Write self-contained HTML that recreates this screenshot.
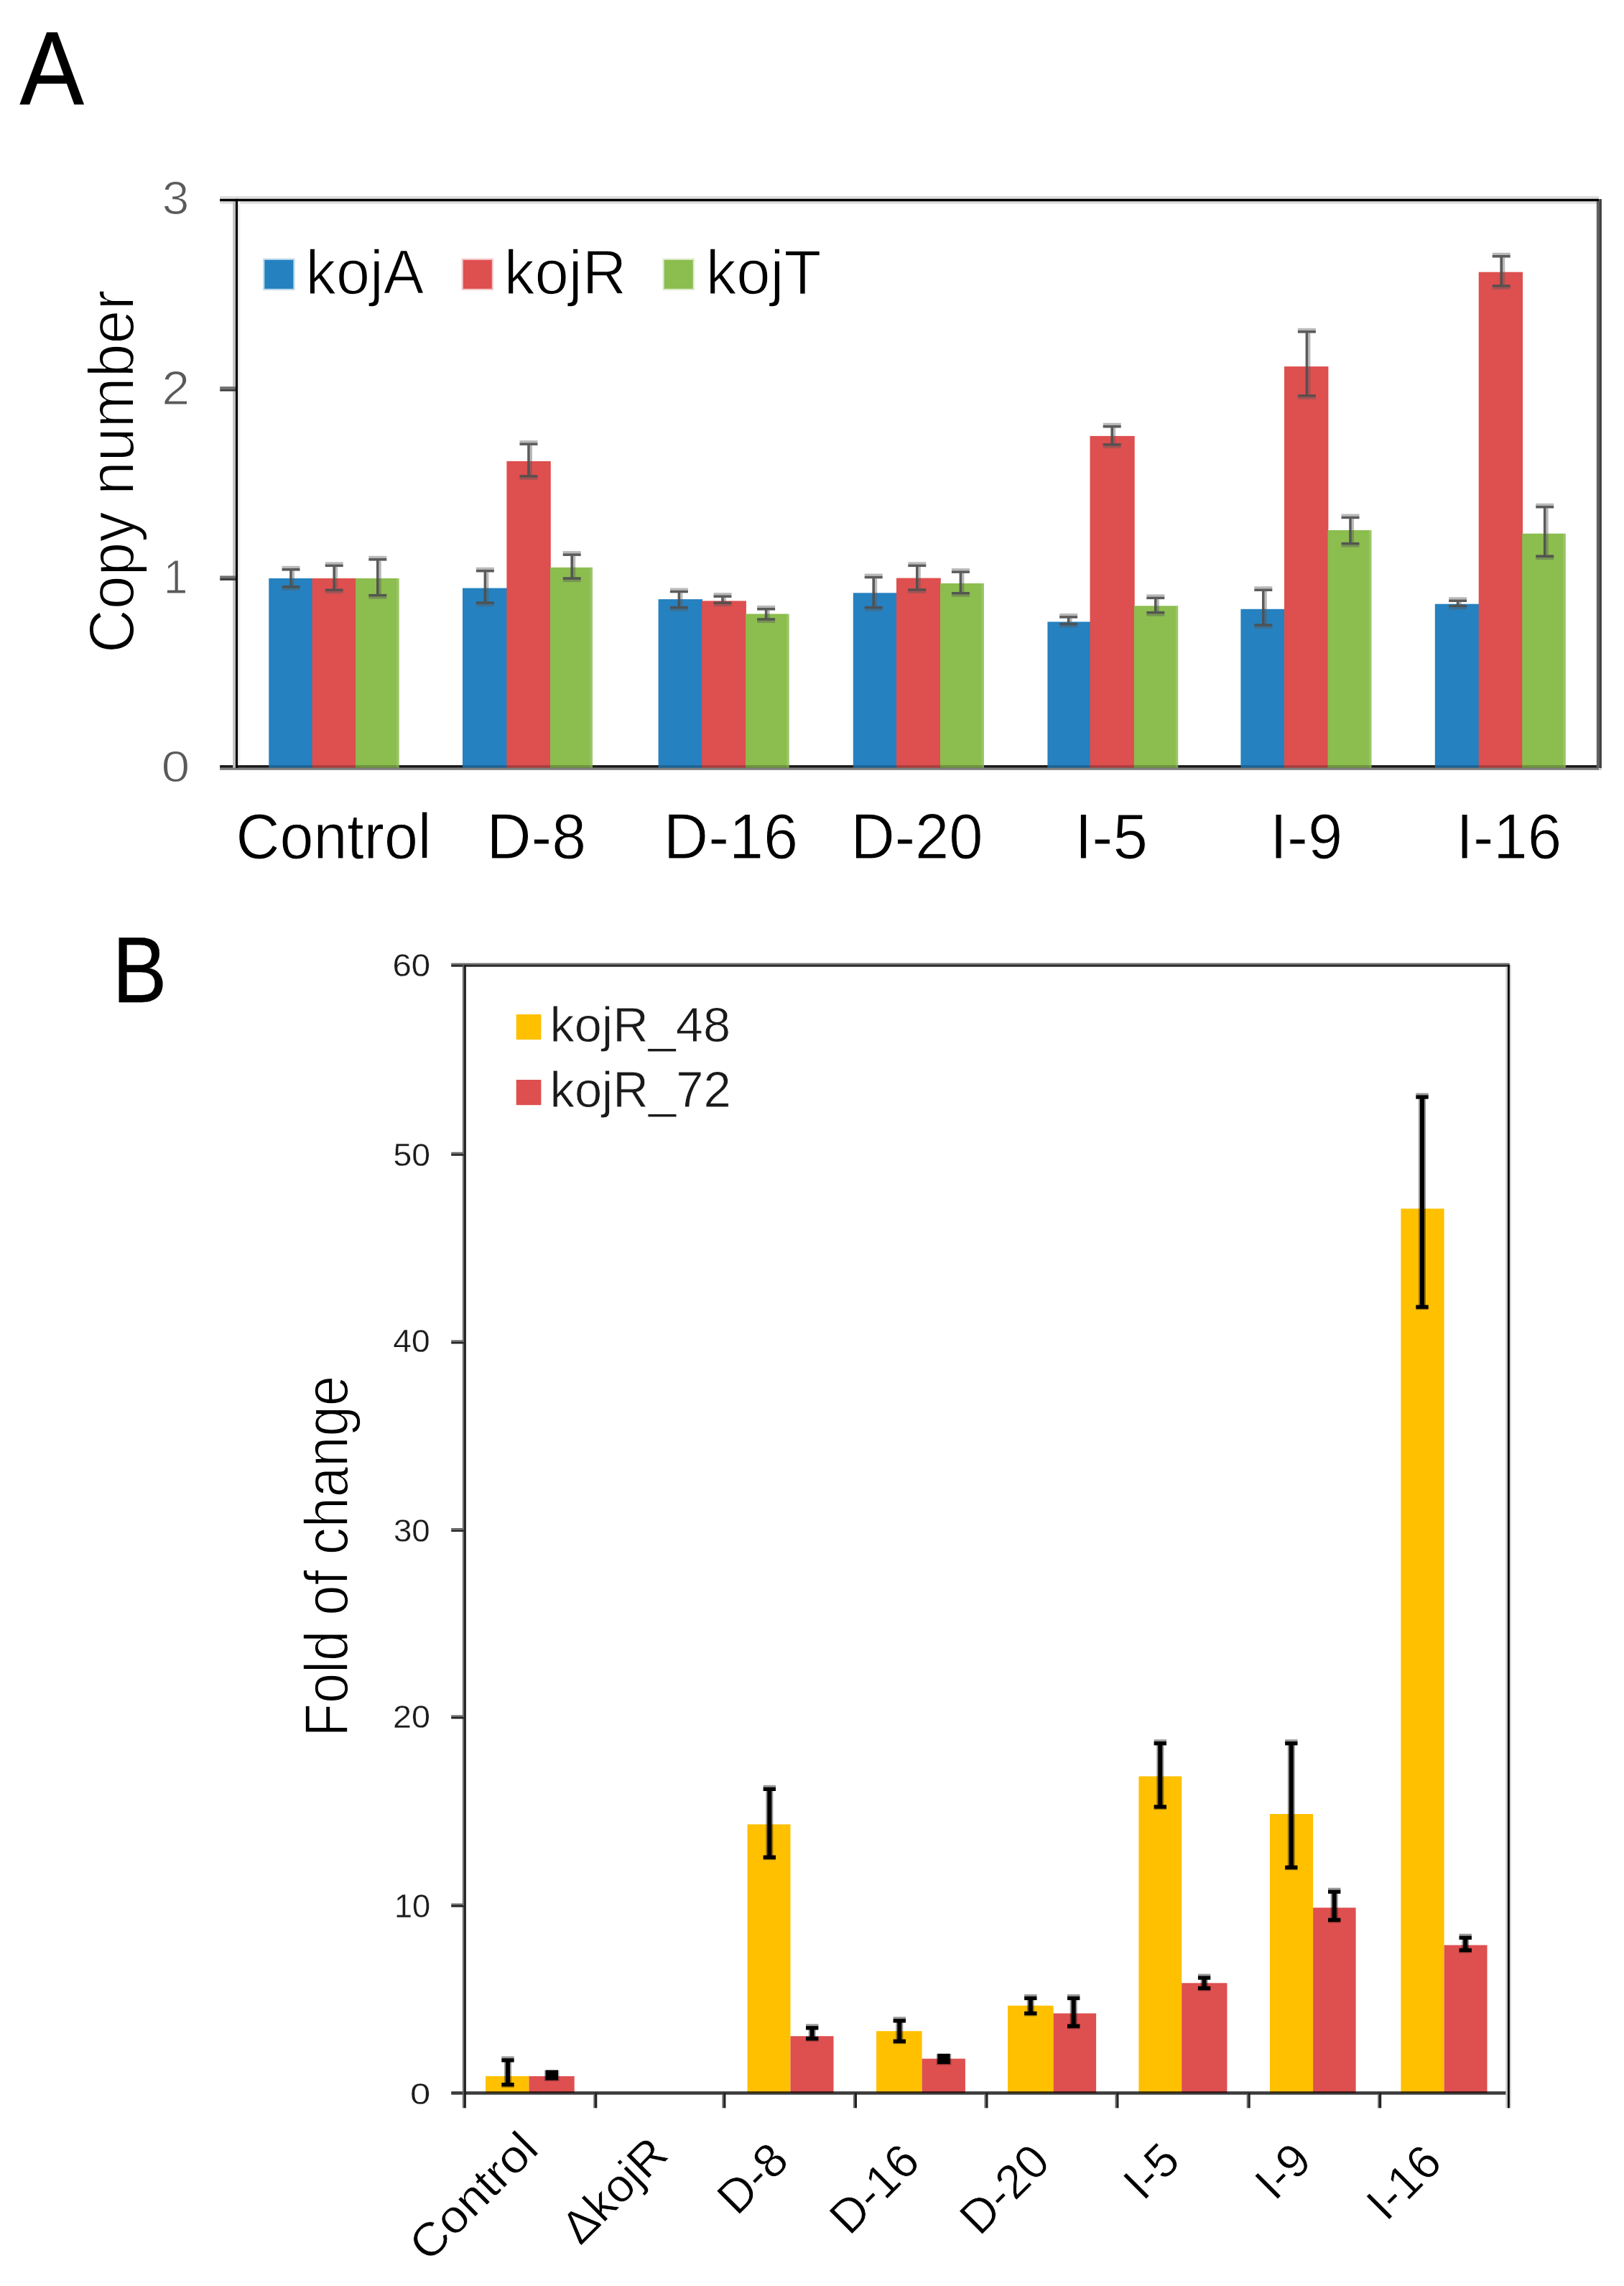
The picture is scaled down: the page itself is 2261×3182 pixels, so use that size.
<!DOCTYPE html>
<html lang="en"><head><meta charset="utf-8"><title>Figure</title>
<style>
html,body{margin:0;padding:0;background:#fff;}
svg{display:block;font-family:"Liberation Sans", sans-serif;}
</style></head>
<body>
<svg width="2261" height="3182" viewBox="0 0 2261 3182" shape-rendering="geometricPrecision">
<rect x="0" y="0" width="2261" height="3182" fill="#ffffff"/>
<text transform="translate(27.87,144.50) scale(0.9262,1)" font-size="143.90" fill="#000" stroke="#000" stroke-width="1" stroke-linejoin="miter">A</text>
<text transform="translate(156.61,1395.10) scale(0.8719,1)" font-size="130.52" fill="#000" stroke="#000" stroke-width="0.4">B</text>
<g id="chartA">
<rect x="306.10" y="1065.10" width="1920.10" height="3.70" fill="#222"/>
<rect x="374.30" y="805.00" width="61.10" height="263.80" fill="#2581c0"/>
<rect x="434.60" y="805.00" width="61.30" height="263.80" fill="#de4f4f"/>
<rect x="495.10" y="805.00" width="60.60" height="263.80" fill="#8cbd4f"/>
<rect x="552.30" y="805.00" width="3.40" height="263.80" fill="#ffffff" opacity="0.14"/>
<rect x="644.00" y="818.60" width="62.20" height="250.20" fill="#2581c0"/>
<rect x="705.40" y="642.00" width="61.40" height="426.80" fill="#de4f4f"/>
<rect x="766.00" y="789.80" width="59.00" height="279.00" fill="#8cbd4f"/>
<rect x="821.60" y="789.80" width="3.40" height="279.00" fill="#ffffff" opacity="0.14"/>
<rect x="916.60" y="834.10" width="61.40" height="234.70" fill="#2581c0"/>
<rect x="977.20" y="836.40" width="61.70" height="232.40" fill="#de4f4f"/>
<rect x="1038.10" y="854.50" width="60.60" height="214.30" fill="#8cbd4f"/>
<rect x="1095.30" y="854.50" width="3.40" height="214.30" fill="#ffffff" opacity="0.14"/>
<rect x="1187.80" y="825.30" width="61.00" height="243.50" fill="#2581c0"/>
<rect x="1248.00" y="804.60" width="61.80" height="264.20" fill="#de4f4f"/>
<rect x="1309.00" y="812.00" width="61.00" height="256.80" fill="#8cbd4f"/>
<rect x="1366.60" y="812.00" width="3.40" height="256.80" fill="#ffffff" opacity="0.14"/>
<rect x="1458.40" y="865.50" width="59.90" height="203.30" fill="#2581c0"/>
<rect x="1517.50" y="606.90" width="62.20" height="461.90" fill="#de4f4f"/>
<rect x="1578.90" y="843.30" width="61.30" height="225.50" fill="#8cbd4f"/>
<rect x="1636.80" y="843.30" width="3.40" height="225.50" fill="#ffffff" opacity="0.14"/>
<rect x="1727.40" y="847.80" width="61.40" height="221.00" fill="#2581c0"/>
<rect x="1788.00" y="510.10" width="61.40" height="558.70" fill="#de4f4f"/>
<rect x="1848.60" y="738.00" width="60.90" height="330.80" fill="#8cbd4f"/>
<rect x="1906.10" y="738.00" width="3.40" height="330.80" fill="#ffffff" opacity="0.14"/>
<rect x="1997.80" y="840.70" width="61.70" height="228.10" fill="#2581c0"/>
<rect x="2058.70" y="378.70" width="61.30" height="690.10" fill="#de4f4f"/>
<rect x="2119.20" y="742.70" width="60.60" height="326.10" fill="#8cbd4f"/>
<rect x="2176.40" y="742.70" width="3.40" height="326.10" fill="#ffffff" opacity="0.14"/>
<g fill="#4f4f4f" opacity="0.93">
<rect x="403.20" y="792.80" width="3.60" height="24.10" fill="#4f4f4f"/>
<rect x="392.50" y="791.00" width="25.00" height="3.60" fill="#4f4f4f"/>
<rect x="392.50" y="815.10" width="25.00" height="3.60" fill="#4f4f4f"/>
</g><g opacity="0.42">
<rect x="406.80" y="794.60" width="3.20" height="20.50" fill="#5a5a5a"/>
<rect x="392.50" y="787.80" width="25.00" height="3.20" fill="#5a5a5a"/>
<rect x="392.50" y="818.70" width="25.00" height="3.20" fill="#5a5a5a"/>
</g>
<g fill="#4f4f4f" opacity="0.93">
<rect x="463.40" y="787.30" width="3.60" height="34.00" fill="#4f4f4f"/>
<rect x="452.70" y="785.50" width="25.00" height="3.60" fill="#4f4f4f"/>
<rect x="452.70" y="819.50" width="25.00" height="3.60" fill="#4f4f4f"/>
</g><g opacity="0.42">
<rect x="467.00" y="789.10" width="3.20" height="30.40" fill="#5a5a5a"/>
<rect x="452.70" y="782.30" width="25.00" height="3.20" fill="#5a5a5a"/>
<rect x="452.70" y="823.10" width="25.00" height="3.20" fill="#5a5a5a"/>
</g>
<g fill="#4f4f4f" opacity="0.93">
<rect x="524.00" y="778.80" width="3.60" height="49.90" fill="#4f4f4f"/>
<rect x="513.30" y="777.00" width="25.00" height="3.60" fill="#4f4f4f"/>
<rect x="513.30" y="826.90" width="25.00" height="3.60" fill="#4f4f4f"/>
</g><g opacity="0.42">
<rect x="527.60" y="780.60" width="3.20" height="46.30" fill="#5a5a5a"/>
<rect x="513.30" y="773.80" width="25.00" height="3.20" fill="#5a5a5a"/>
<rect x="513.30" y="830.50" width="25.00" height="3.20" fill="#5a5a5a"/>
</g>
<g fill="#4f4f4f" opacity="0.93">
<rect x="673.60" y="794.70" width="3.60" height="44.40" fill="#4f4f4f"/>
<rect x="662.90" y="792.90" width="25.00" height="3.60" fill="#4f4f4f"/>
<rect x="662.90" y="837.30" width="25.00" height="3.60" fill="#4f4f4f"/>
</g><g opacity="0.42">
<rect x="677.20" y="796.50" width="3.20" height="40.80" fill="#5a5a5a"/>
<rect x="662.90" y="789.70" width="25.00" height="3.20" fill="#5a5a5a"/>
<rect x="662.90" y="840.90" width="25.00" height="3.20" fill="#5a5a5a"/>
</g>
<g fill="#4f4f4f" opacity="0.93">
<rect x="734.20" y="618.10" width="3.60" height="44.80" fill="#4f4f4f"/>
<rect x="723.50" y="616.30" width="25.00" height="3.60" fill="#4f4f4f"/>
<rect x="723.50" y="661.10" width="25.00" height="3.60" fill="#4f4f4f"/>
</g><g opacity="0.42">
<rect x="737.80" y="619.90" width="3.20" height="41.20" fill="#5a5a5a"/>
<rect x="723.50" y="613.10" width="25.00" height="3.20" fill="#5a5a5a"/>
<rect x="723.50" y="664.70" width="25.00" height="3.20" fill="#5a5a5a"/>
</g>
<g fill="#4f4f4f" opacity="0.93">
<rect x="794.40" y="772.10" width="3.60" height="33.00" fill="#4f4f4f"/>
<rect x="783.70" y="770.30" width="25.00" height="3.60" fill="#4f4f4f"/>
<rect x="783.70" y="803.30" width="25.00" height="3.60" fill="#4f4f4f"/>
</g><g opacity="0.42">
<rect x="798.00" y="773.90" width="3.20" height="29.40" fill="#5a5a5a"/>
<rect x="783.70" y="767.10" width="25.00" height="3.20" fill="#5a5a5a"/>
<rect x="783.70" y="806.90" width="25.00" height="3.20" fill="#5a5a5a"/>
</g>
<g fill="#4f4f4f" opacity="0.93">
<rect x="943.60" y="823.50" width="3.60" height="22.20" fill="#4f4f4f"/>
<rect x="932.90" y="821.70" width="25.00" height="3.60" fill="#4f4f4f"/>
<rect x="932.90" y="843.90" width="25.00" height="3.60" fill="#4f4f4f"/>
</g><g opacity="0.42">
<rect x="947.20" y="825.30" width="3.20" height="18.60" fill="#5a5a5a"/>
<rect x="932.90" y="818.50" width="25.00" height="3.20" fill="#5a5a5a"/>
<rect x="932.90" y="847.50" width="25.00" height="3.20" fill="#5a5a5a"/>
</g>
<g fill="#4f4f4f" opacity="0.93">
<rect x="1004.20" y="830.10" width="3.60" height="9.00" fill="#4f4f4f"/>
<rect x="993.50" y="828.30" width="25.00" height="3.60" fill="#4f4f4f"/>
<rect x="993.50" y="837.30" width="25.00" height="3.60" fill="#4f4f4f"/>
</g><g opacity="0.42">
<rect x="1007.80" y="831.90" width="3.20" height="5.40" fill="#5a5a5a"/>
<rect x="993.50" y="825.10" width="25.00" height="3.20" fill="#5a5a5a"/>
<rect x="993.50" y="840.90" width="25.00" height="3.20" fill="#5a5a5a"/>
</g>
<g fill="#4f4f4f" opacity="0.93">
<rect x="1064.80" y="847.80" width="3.60" height="14.20" fill="#4f4f4f"/>
<rect x="1054.10" y="846.00" width="25.00" height="3.60" fill="#4f4f4f"/>
<rect x="1054.10" y="860.20" width="25.00" height="3.60" fill="#4f4f4f"/>
</g><g opacity="0.42">
<rect x="1068.40" y="849.60" width="3.20" height="10.60" fill="#5a5a5a"/>
<rect x="1054.10" y="842.80" width="25.00" height="3.20" fill="#5a5a5a"/>
<rect x="1054.10" y="863.80" width="25.00" height="3.20" fill="#5a5a5a"/>
</g>
<g fill="#4f4f4f" opacity="0.93">
<rect x="1214.40" y="803.50" width="3.60" height="42.20" fill="#4f4f4f"/>
<rect x="1203.70" y="801.70" width="25.00" height="3.60" fill="#4f4f4f"/>
<rect x="1203.70" y="843.90" width="25.00" height="3.60" fill="#4f4f4f"/>
</g><g opacity="0.42">
<rect x="1218.00" y="805.30" width="3.20" height="38.60" fill="#5a5a5a"/>
<rect x="1203.70" y="798.50" width="25.00" height="3.20" fill="#5a5a5a"/>
<rect x="1203.70" y="847.50" width="25.00" height="3.20" fill="#5a5a5a"/>
</g>
<g fill="#4f4f4f" opacity="0.93">
<rect x="1275.00" y="787.30" width="3.60" height="33.70" fill="#4f4f4f"/>
<rect x="1264.30" y="785.50" width="25.00" height="3.60" fill="#4f4f4f"/>
<rect x="1264.30" y="819.20" width="25.00" height="3.60" fill="#4f4f4f"/>
</g><g opacity="0.42">
<rect x="1278.60" y="789.10" width="3.20" height="30.10" fill="#5a5a5a"/>
<rect x="1264.30" y="782.30" width="25.00" height="3.20" fill="#5a5a5a"/>
<rect x="1264.30" y="822.80" width="25.00" height="3.20" fill="#5a5a5a"/>
</g>
<g fill="#4f4f4f" opacity="0.93">
<rect x="1335.60" y="796.10" width="3.60" height="29.70" fill="#4f4f4f"/>
<rect x="1324.90" y="794.30" width="25.00" height="3.60" fill="#4f4f4f"/>
<rect x="1324.90" y="824.00" width="25.00" height="3.60" fill="#4f4f4f"/>
</g><g opacity="0.42">
<rect x="1339.20" y="797.90" width="3.20" height="26.10" fill="#5a5a5a"/>
<rect x="1324.90" y="791.10" width="25.00" height="3.20" fill="#5a5a5a"/>
<rect x="1324.90" y="827.60" width="25.00" height="3.20" fill="#5a5a5a"/>
</g>
<g fill="#4f4f4f" opacity="0.93">
<rect x="1485.80" y="858.90" width="3.60" height="9.70" fill="#4f4f4f"/>
<rect x="1475.10" y="857.10" width="25.00" height="3.60" fill="#4f4f4f"/>
<rect x="1475.10" y="866.80" width="25.00" height="3.60" fill="#4f4f4f"/>
</g><g opacity="0.42">
<rect x="1489.40" y="860.70" width="3.20" height="6.10" fill="#5a5a5a"/>
<rect x="1475.10" y="853.90" width="25.00" height="3.20" fill="#5a5a5a"/>
<rect x="1475.10" y="870.40" width="25.00" height="3.20" fill="#5a5a5a"/>
</g>
<g fill="#4f4f4f" opacity="0.93">
<rect x="1546.40" y="593.70" width="3.60" height="25.20" fill="#4f4f4f"/>
<rect x="1535.70" y="591.90" width="25.00" height="3.60" fill="#4f4f4f"/>
<rect x="1535.70" y="617.10" width="25.00" height="3.60" fill="#4f4f4f"/>
</g><g opacity="0.42">
<rect x="1550.00" y="595.50" width="3.20" height="21.60" fill="#5a5a5a"/>
<rect x="1535.70" y="588.70" width="25.00" height="3.20" fill="#5a5a5a"/>
<rect x="1535.70" y="620.70" width="25.00" height="3.20" fill="#5a5a5a"/>
</g>
<g fill="#4f4f4f" opacity="0.93">
<rect x="1607.00" y="832.30" width="3.60" height="20.40" fill="#4f4f4f"/>
<rect x="1596.30" y="830.50" width="25.00" height="3.60" fill="#4f4f4f"/>
<rect x="1596.30" y="850.90" width="25.00" height="3.60" fill="#4f4f4f"/>
</g><g opacity="0.42">
<rect x="1610.60" y="834.10" width="3.20" height="16.80" fill="#5a5a5a"/>
<rect x="1596.30" y="827.30" width="25.00" height="3.20" fill="#5a5a5a"/>
<rect x="1596.30" y="854.50" width="25.00" height="3.20" fill="#5a5a5a"/>
</g>
<g fill="#4f4f4f" opacity="0.93">
<rect x="1757.00" y="821.20" width="3.60" height="48.90" fill="#4f4f4f"/>
<rect x="1746.30" y="819.40" width="25.00" height="3.60" fill="#4f4f4f"/>
<rect x="1746.30" y="868.30" width="25.00" height="3.60" fill="#4f4f4f"/>
</g><g opacity="0.42">
<rect x="1760.60" y="823.00" width="3.20" height="45.30" fill="#5a5a5a"/>
<rect x="1746.30" y="816.20" width="25.00" height="3.20" fill="#5a5a5a"/>
<rect x="1746.30" y="871.90" width="25.00" height="3.20" fill="#5a5a5a"/>
</g>
<g fill="#4f4f4f" opacity="0.93">
<rect x="1817.60" y="461.80" width="3.60" height="89.10" fill="#4f4f4f"/>
<rect x="1806.90" y="460.00" width="25.00" height="3.60" fill="#4f4f4f"/>
<rect x="1806.90" y="549.10" width="25.00" height="3.60" fill="#4f4f4f"/>
</g><g opacity="0.42">
<rect x="1821.20" y="463.60" width="3.20" height="85.50" fill="#5a5a5a"/>
<rect x="1806.90" y="456.80" width="25.00" height="3.20" fill="#5a5a5a"/>
<rect x="1806.90" y="552.70" width="25.00" height="3.20" fill="#5a5a5a"/>
</g>
<g fill="#4f4f4f" opacity="0.93">
<rect x="1878.20" y="720.40" width="3.60" height="36.30" fill="#4f4f4f"/>
<rect x="1867.50" y="718.60" width="25.00" height="3.60" fill="#4f4f4f"/>
<rect x="1867.50" y="754.90" width="25.00" height="3.60" fill="#4f4f4f"/>
</g><g opacity="0.42">
<rect x="1881.80" y="722.20" width="3.20" height="32.70" fill="#5a5a5a"/>
<rect x="1867.50" y="715.40" width="25.00" height="3.20" fill="#5a5a5a"/>
<rect x="1867.50" y="758.50" width="25.00" height="3.20" fill="#5a5a5a"/>
</g>
<g fill="#4f4f4f" opacity="0.93">
<rect x="2027.80" y="836.20" width="3.60" height="7.30" fill="#4f4f4f"/>
<rect x="2017.10" y="834.40" width="25.00" height="3.60" fill="#4f4f4f"/>
<rect x="2017.10" y="841.70" width="25.00" height="3.60" fill="#4f4f4f"/>
</g><g opacity="0.42">
<rect x="2031.40" y="838.00" width="3.20" height="3.70" fill="#5a5a5a"/>
<rect x="2017.10" y="831.20" width="25.00" height="3.20" fill="#5a5a5a"/>
<rect x="2017.10" y="845.30" width="25.00" height="3.20" fill="#5a5a5a"/>
</g>
<g fill="#4f4f4f" opacity="0.93">
<rect x="2088.40" y="356.80" width="3.60" height="41.20" fill="#4f4f4f"/>
<rect x="2077.70" y="355.00" width="25.00" height="3.60" fill="#4f4f4f"/>
<rect x="2077.70" y="396.20" width="25.00" height="3.60" fill="#4f4f4f"/>
</g><g opacity="0.42">
<rect x="2092.00" y="358.60" width="3.20" height="37.60" fill="#5a5a5a"/>
<rect x="2077.70" y="351.80" width="25.00" height="3.20" fill="#5a5a5a"/>
<rect x="2077.70" y="399.80" width="25.00" height="3.20" fill="#5a5a5a"/>
</g>
<g fill="#4f4f4f" opacity="0.93">
<rect x="2148.90" y="705.70" width="3.60" height="68.50" fill="#4f4f4f"/>
<rect x="2138.20" y="703.90" width="25.00" height="3.60" fill="#4f4f4f"/>
<rect x="2138.20" y="772.40" width="25.00" height="3.60" fill="#4f4f4f"/>
</g><g opacity="0.42">
<rect x="2152.50" y="707.50" width="3.20" height="64.90" fill="#5a5a5a"/>
<rect x="2138.20" y="700.70" width="25.00" height="3.20" fill="#5a5a5a"/>
<rect x="2138.20" y="776.00" width="25.00" height="3.20" fill="#5a5a5a"/>
</g>
<rect x="306.10" y="1065.10" width="1920.10" height="3.70" fill="#000" opacity="0.22"/>
<rect x="306.10" y="1068.80" width="1920.10" height="3.10" fill="#808080"/>
<rect x="306.10" y="273.10" width="1919.90" height="10.60" fill="#dedede"/>
<rect x="324.20" y="280.00" width="3.80" height="788.80" fill="#c0c0c0"/>
<rect x="331.10" y="280.00" width="3.40" height="785.10" fill="#f2f2f2"/>
<rect x="328.00" y="276.80" width="3.10" height="792.00" fill="#000"/>
<rect x="306.10" y="276.80" width="1919.90" height="3.40" fill="#000"/>
<rect x="2222.80" y="280.00" width="3.40" height="788.80" fill="#606060"/>
<rect x="2226.20" y="277.10" width="3.70" height="791.90" fill="#404040"/>
<rect x="2226.20" y="1069.00" width="3.70" height="2.90" fill="#d0d0d0"/>
<rect x="306.20" y="538.10" width="21.80" height="3.50" fill="#6e6e6e"/>
<rect x="306.20" y="541.60" width="21.80" height="3.00" fill="#3c3c3c"/>
<rect x="306.20" y="801.45" width="21.80" height="3.50" fill="#6e6e6e"/>
<rect x="306.20" y="804.95" width="21.80" height="3.00" fill="#3c3c3c"/>
<text transform="translate(225.86,298.45) scale(1.0495,1)" font-size="64.59" fill="#5a5a5a" stroke="#fff" stroke-width="1.2">3</text>
<text transform="translate(225.31,563.10) scale(1.0439,1)" font-size="66.95" fill="#5a5a5a" stroke="#fff" stroke-width="1.2">2</text>
<text transform="translate(227.86,825.60) scale(0.9214,1)" font-size="65.75" fill="#5a5a5a" stroke="#fff" stroke-width="1.2">1</text>
<text transform="translate(224.54,1087.98) scale(1.1596,1)" font-size="61.77" fill="#5a5a5a" stroke="#fff" stroke-width="1.2">0</text>
<text transform="translate(186.00,909.11) rotate(-90) scale(0.9373,1)" font-size="89.86" fill="#000" stroke="#fff" stroke-width="1.8">Copy number</text>
<rect x="366.15" y="359.70" width="44.40" height="44.40" fill="#2581c0" opacity="0.3"/>
<rect x="368.35" y="361.90" width="40.00" height="40.00" fill="#2581c0"/>
<rect x="642.60" y="359.70" width="44.40" height="44.40" fill="#de4f4f" opacity="0.3"/>
<rect x="644.80" y="361.90" width="40.00" height="40.00" fill="#de4f4f"/>
<rect x="922.50" y="359.70" width="44.40" height="44.40" fill="#8cbd4f" opacity="0.3"/>
<rect x="924.70" y="361.90" width="40.00" height="40.00" fill="#8cbd4f"/>
<text transform="translate(425.59,409.00) scale(0.9803,1)" font-size="86.34" fill="#000" stroke="#fff" stroke-width="1.4">kojA</text>
<text transform="translate(701.85,409.00) scale(0.9874,1)" font-size="86.34" fill="#000" stroke="#fff" stroke-width="1.4">kojR</text>
<text transform="translate(982.76,409.00) scale(0.9852,1)" font-size="86.34" fill="#000" stroke="#fff" stroke-width="1.4">kojT</text>
<text transform="translate(328.58,1195.31) scale(0.9452,1)" font-size="89.27" fill="#000" stroke="#fff" stroke-width="1.0">Control</text>
<text transform="translate(677.41,1195.31) scale(0.9633,1)" font-size="89.27" fill="#000" stroke="#fff" stroke-width="1.0">D-8</text>
<text transform="translate(923.77,1195.31) scale(0.9681,1)" font-size="89.27" fill="#000" stroke="#fff" stroke-width="1.0">D-16</text>
<text transform="translate(1184.39,1195.31) scale(0.9515,1)" font-size="89.27" fill="#000" stroke="#fff" stroke-width="1.0">D-20</text>
<text transform="translate(1496.14,1195.31) scale(0.9765,1)" font-size="89.27" fill="#000" stroke="#fff" stroke-width="1.0">I-5</text>
<text transform="translate(1767.98,1195.31) scale(0.9714,1)" font-size="89.27" fill="#000" stroke="#fff" stroke-width="1.0">I-9</text>
<text transform="translate(2027.21,1195.31) scale(0.9555,1)" font-size="89.27" fill="#000" stroke="#fff" stroke-width="1.0">I-16</text>
</g>
<g id="chartB">
<rect x="676.00" y="2889.90" width="60.50" height="23.20" fill="#ffc000"/>
<rect x="736.50" y="2890.00" width="63.20" height="23.10" fill="#de4f4f"/>
<rect x="1040.50" y="2539.40" width="60.00" height="373.70" fill="#ffc000"/>
<rect x="1100.50" y="2834.20" width="60.00" height="78.90" fill="#de4f4f"/>
<rect x="1220.10" y="2827.20" width="63.50" height="85.90" fill="#ffc000"/>
<rect x="1283.60" y="2865.60" width="60.30" height="47.50" fill="#de4f4f"/>
<rect x="1403.00" y="2791.70" width="63.60" height="121.40" fill="#ffc000"/>
<rect x="1466.60" y="2802.50" width="59.50" height="110.60" fill="#de4f4f"/>
<rect x="1585.40" y="2472.50" width="59.80" height="440.60" fill="#ffc000"/>
<rect x="1645.20" y="2760.30" width="63.20" height="152.80" fill="#de4f4f"/>
<rect x="1767.90" y="2525.00" width="60.20" height="388.10" fill="#ffc000"/>
<rect x="1828.10" y="2655.40" width="59.50" height="257.70" fill="#de4f4f"/>
<rect x="1950.40" y="1682.40" width="60.20" height="1230.70" fill="#ffc000"/>
<rect x="2010.60" y="2707.50" width="59.90" height="205.60" fill="#de4f4f"/>
<g fill="#000" opacity="0.4">
<rect x="702.00" y="2867.80" width="10.00" height="33.90" fill="#000"/>
<rect x="698.30" y="2862.30" width="17.40" height="2.80" fill="#000"/>
<rect x="698.30" y="2904.40" width="17.40" height="1.20" fill="#000"/>
</g><g fill="#000">
<rect x="704.00" y="2867.80" width="6.00" height="33.90" fill="#000"/>
<rect x="698.30" y="2865.10" width="17.40" height="5.40" fill="#000"/>
<rect x="698.30" y="2899.00" width="17.40" height="5.40" fill="#000"/>
</g>
<g fill="#000" opacity="0.33">
<rect x="758.00" y="2881.70" width="20.60" height="15.10" fill="#000"/>
</g>
<rect x="759.60" y="2881.50" width="17.40" height="13.90" fill="#000"/>
<g fill="#000" opacity="0.4">
<rect x="1066.30" y="2490.30" width="10.00" height="94.90" fill="#000"/>
<rect x="1062.60" y="2484.80" width="17.40" height="2.80" fill="#000"/>
<rect x="1062.60" y="2587.90" width="17.40" height="1.20" fill="#000"/>
</g><g fill="#000">
<rect x="1068.30" y="2490.30" width="6.00" height="94.90" fill="#000"/>
<rect x="1062.60" y="2487.60" width="17.40" height="5.40" fill="#000"/>
<rect x="1062.60" y="2582.50" width="17.40" height="5.40" fill="#000"/>
</g>
<g fill="#000" opacity="0.4">
<rect x="1125.70" y="2822.80" width="10.00" height="14.80" fill="#000"/>
<rect x="1122.00" y="2817.30" width="17.40" height="2.80" fill="#000"/>
<rect x="1122.00" y="2840.30" width="17.40" height="1.20" fill="#000"/>
</g><g fill="#000">
<rect x="1127.70" y="2822.80" width="6.00" height="14.80" fill="#000"/>
<rect x="1122.00" y="2820.10" width="17.40" height="5.40" fill="#000"/>
<rect x="1122.00" y="2834.90" width="17.40" height="5.40" fill="#000"/>
</g>
<g fill="#000" opacity="0.4">
<rect x="1247.30" y="2812.80" width="10.00" height="28.50" fill="#000"/>
<rect x="1243.60" y="2807.30" width="17.40" height="2.80" fill="#000"/>
<rect x="1243.60" y="2844.00" width="17.40" height="1.20" fill="#000"/>
</g><g fill="#000">
<rect x="1249.30" y="2812.80" width="6.00" height="28.50" fill="#000"/>
<rect x="1243.60" y="2810.10" width="17.40" height="5.40" fill="#000"/>
<rect x="1243.60" y="2838.60" width="17.40" height="5.40" fill="#000"/>
</g>
<g fill="#000" opacity="0.33">
<rect x="1303.70" y="2858.90" width="20.60" height="15.40" fill="#000"/>
</g>
<rect x="1305.30" y="2858.70" width="17.40" height="14.20" fill="#000"/>
<g fill="#000" opacity="0.4">
<rect x="1429.80" y="2781.40" width="10.00" height="21.10" fill="#000"/>
<rect x="1426.10" y="2775.90" width="17.40" height="2.80" fill="#000"/>
<rect x="1426.10" y="2805.20" width="17.40" height="1.20" fill="#000"/>
</g><g fill="#000">
<rect x="1431.80" y="2781.40" width="6.00" height="21.10" fill="#000"/>
<rect x="1426.10" y="2778.70" width="17.40" height="5.40" fill="#000"/>
<rect x="1426.10" y="2799.80" width="17.40" height="5.40" fill="#000"/>
</g>
<g fill="#000" opacity="0.4">
<rect x="1489.70" y="2781.40" width="10.00" height="38.80" fill="#000"/>
<rect x="1486.00" y="2775.90" width="17.40" height="2.80" fill="#000"/>
<rect x="1486.00" y="2822.90" width="17.40" height="1.20" fill="#000"/>
</g><g fill="#000">
<rect x="1491.70" y="2781.40" width="6.00" height="38.80" fill="#000"/>
<rect x="1486.00" y="2778.70" width="17.40" height="5.40" fill="#000"/>
<rect x="1486.00" y="2817.50" width="17.40" height="5.40" fill="#000"/>
</g>
<g fill="#000" opacity="0.4">
<rect x="1610.30" y="2426.70" width="10.00" height="88.30" fill="#000"/>
<rect x="1606.60" y="2421.20" width="17.40" height="2.80" fill="#000"/>
<rect x="1606.60" y="2517.70" width="17.40" height="1.20" fill="#000"/>
</g><g fill="#000">
<rect x="1612.30" y="2426.70" width="6.00" height="88.30" fill="#000"/>
<rect x="1606.60" y="2424.00" width="17.40" height="5.40" fill="#000"/>
<rect x="1606.60" y="2512.30" width="17.40" height="5.40" fill="#000"/>
</g>
<g fill="#000" opacity="0.4">
<rect x="1671.60" y="2753.00" width="10.00" height="14.40" fill="#000"/>
<rect x="1667.90" y="2747.50" width="17.40" height="2.80" fill="#000"/>
<rect x="1667.90" y="2770.10" width="17.40" height="1.20" fill="#000"/>
</g><g fill="#000">
<rect x="1673.60" y="2753.00" width="6.00" height="14.40" fill="#000"/>
<rect x="1667.90" y="2750.30" width="17.40" height="5.40" fill="#000"/>
<rect x="1667.90" y="2764.70" width="17.40" height="5.40" fill="#000"/>
</g>
<g fill="#000" opacity="0.4">
<rect x="1792.80" y="2426.70" width="10.00" height="172.60" fill="#000"/>
<rect x="1789.10" y="2421.20" width="17.40" height="2.80" fill="#000"/>
<rect x="1789.10" y="2602.00" width="17.40" height="1.20" fill="#000"/>
</g><g fill="#000">
<rect x="1794.80" y="2426.70" width="6.00" height="172.60" fill="#000"/>
<rect x="1789.10" y="2424.00" width="17.40" height="5.40" fill="#000"/>
<rect x="1789.10" y="2596.60" width="17.40" height="5.40" fill="#000"/>
</g>
<g fill="#000" opacity="0.4">
<rect x="1852.70" y="2633.20" width="10.00" height="39.20" fill="#000"/>
<rect x="1849.00" y="2627.70" width="17.40" height="2.80" fill="#000"/>
<rect x="1849.00" y="2675.10" width="17.40" height="1.20" fill="#000"/>
</g><g fill="#000">
<rect x="1854.70" y="2633.20" width="6.00" height="39.20" fill="#000"/>
<rect x="1849.00" y="2630.50" width="17.40" height="5.40" fill="#000"/>
<rect x="1849.00" y="2669.70" width="17.40" height="5.40" fill="#000"/>
</g>
<g fill="#000" opacity="0.4">
<rect x="1975.00" y="1527.00" width="10.00" height="292.20" fill="#000"/>
<rect x="1971.30" y="1521.50" width="17.40" height="2.80" fill="#000"/>
<rect x="1971.30" y="1821.90" width="17.40" height="1.20" fill="#000"/>
</g><g fill="#000">
<rect x="1977.00" y="1527.00" width="6.00" height="292.20" fill="#000"/>
<rect x="1971.30" y="1524.30" width="17.40" height="5.40" fill="#000"/>
<rect x="1971.30" y="1816.50" width="17.40" height="5.40" fill="#000"/>
</g>
<g fill="#000" opacity="0.4">
<rect x="2035.20" y="2697.20" width="10.00" height="17.30" fill="#000"/>
<rect x="2031.50" y="2691.70" width="17.40" height="2.80" fill="#000"/>
<rect x="2031.50" y="2717.20" width="17.40" height="1.20" fill="#000"/>
</g><g fill="#000">
<rect x="2037.20" y="2697.20" width="6.00" height="17.30" fill="#000"/>
<rect x="2031.50" y="2694.50" width="17.40" height="5.40" fill="#000"/>
<rect x="2031.50" y="2711.80" width="17.40" height="5.40" fill="#000"/>
</g>
<g style="mix-blend-mode:multiply">
<rect x="628.20" y="2911.10" width="1470.80" height="4.60" fill="#3c3c3c"/>
</g>
<rect x="628.20" y="1340.60" width="1473.60" height="2.50" fill="#6a6a6a"/>
<rect x="628.20" y="1343.10" width="1473.60" height="2.60" fill="#222"/>
<rect x="643.90" y="1343.10" width="1.80" height="1591.20" fill="#6a6a6a"/>
<rect x="645.70" y="1343.10" width="3.20" height="1591.20" fill="#222"/>
<rect x="2096.30" y="1345.70" width="2.70" height="1588.60" fill="#c8c8c8"/>
<rect x="2101.80" y="1343.10" width="1.90" height="1591.20" fill="#d0d0d0"/>
<rect x="2099.00" y="1343.10" width="2.80" height="1591.20" fill="#000"/>
<rect x="628.20" y="1603.70" width="17.50" height="2.50" fill="#6a6a6a"/>
<rect x="628.20" y="1606.20" width="17.50" height="2.60" fill="#222"/>
<rect x="628.20" y="1865.35" width="17.50" height="2.50" fill="#6a6a6a"/>
<rect x="628.20" y="1867.85" width="17.50" height="2.60" fill="#222"/>
<rect x="628.20" y="2127.00" width="17.50" height="2.50" fill="#6a6a6a"/>
<rect x="628.20" y="2129.50" width="17.50" height="2.60" fill="#222"/>
<rect x="628.20" y="2387.40" width="17.50" height="2.50" fill="#6a6a6a"/>
<rect x="628.20" y="2389.90" width="17.50" height="2.60" fill="#222"/>
<rect x="628.20" y="2649.50" width="17.50" height="2.50" fill="#6a6a6a"/>
<rect x="628.20" y="2652.00" width="17.50" height="2.60" fill="#222"/>
<rect x="826.30" y="2915.70" width="1.80" height="18.60" fill="#6a6a6a"/>
<rect x="828.10" y="2913.10" width="3.20" height="21.20" fill="#222"/>
<rect x="1005.40" y="2915.70" width="1.80" height="18.60" fill="#6a6a6a"/>
<rect x="1007.20" y="2913.10" width="3.20" height="21.20" fill="#222"/>
<rect x="1188.00" y="2915.70" width="1.80" height="18.60" fill="#6a6a6a"/>
<rect x="1189.80" y="2913.10" width="3.20" height="21.20" fill="#222"/>
<rect x="1370.50" y="2915.70" width="1.80" height="18.60" fill="#6a6a6a"/>
<rect x="1372.30" y="2913.10" width="3.20" height="21.20" fill="#222"/>
<rect x="1552.50" y="2915.70" width="1.80" height="18.60" fill="#6a6a6a"/>
<rect x="1554.30" y="2913.10" width="3.20" height="21.20" fill="#222"/>
<rect x="1735.70" y="2915.70" width="1.80" height="18.60" fill="#6a6a6a"/>
<rect x="1737.50" y="2913.10" width="3.20" height="21.20" fill="#222"/>
<rect x="1918.20" y="2915.70" width="1.80" height="18.60" fill="#6a6a6a"/>
<rect x="1920.00" y="2913.10" width="3.20" height="21.20" fill="#222"/>
<text transform="translate(546.38,1359.10) scale(1.0565,1)" font-size="44.81" fill="#1c1c1c" stroke="#fff" stroke-width="0.3">60</text>
<text transform="translate(547.50,1622.60) scale(1.0332,1)" font-size="44.81" fill="#1c1c1c" stroke="#fff" stroke-width="0.3">50</text>
<text transform="translate(547.21,1881.70) scale(1.0244,1)" font-size="45.09" fill="#1c1c1c" stroke="#fff" stroke-width="0.3">40</text>
<text transform="translate(547.94,2146.20) scale(1.0232,1)" font-size="44.66" fill="#1c1c1c" stroke="#fff" stroke-width="0.3">30</text>
<text transform="translate(547.01,2405.21) scale(1.0533,1)" font-size="44.38" fill="#1c1c1c" stroke="#fff" stroke-width="0.3">20</text>
<text transform="translate(548.96,2669.39) scale(0.9873,1)" font-size="45.80" fill="#1c1c1c" stroke="#fff" stroke-width="0.3">10</text>
<text transform="translate(571.11,2929.22) scale(1.1766,1)" font-size="43.25" fill="#1c1c1c" stroke="#fff" stroke-width="0.3">0</text>
<text transform="translate(484.10,2417.46) rotate(-90) scale(0.8926,1)" font-size="85.07" fill="#000" stroke="#fff" stroke-width="1.6">Fold of change</text>
<rect x="718.70" y="1411.90" width="34.70" height="35.20" fill="#ffc000"/>
<rect x="718.70" y="1503.00" width="34.70" height="35.20" fill="#de4f4f"/>
<text transform="translate(765.57,1450.00) scale(0.9898,1)" font-size="69.26" fill="#1a1a1a" stroke="#fff" stroke-width="0.8">kojR_48</text>
<text transform="translate(765.56,1541.20) scale(0.9859,1)" font-size="69.69" fill="#1a1a1a" stroke="#fff" stroke-width="0.8">kojR_72</text>
<text transform="translate(1026.07,3085.63) rotate(-45) scale(1.0000,1)" font-size="66.00" fill="#000" stroke="#fff" stroke-width="0.7">D-8</text>
<text transform="translate(1182.47,3113.23) rotate(-45) scale(1.0000,1)" font-size="66.00" fill="#000" stroke="#fff" stroke-width="0.7">D-16</text>
<text transform="translate(1363.87,3113.73) rotate(-45) scale(1.0000,1)" font-size="66.00" fill="#000" stroke="#fff" stroke-width="0.7">D-20</text>
<text transform="translate(1591.54,3065.36) rotate(-45) scale(1.0000,1)" font-size="66.00" fill="#000" stroke="#fff" stroke-width="0.7">I-5</text>
<text transform="translate(1774.84,3065.36) rotate(-45) scale(1.0000,1)" font-size="66.00" fill="#000" stroke="#fff" stroke-width="0.7">I-9</text>
<text transform="translate(1930.04,3093.66) rotate(-45) scale(1.0000,1)" font-size="66.00" fill="#000" stroke="#fff" stroke-width="0.7">I-16</text>
<text transform="translate(807.99,3127.11) rotate(-45) scale(1.0300,1)" font-size="64.50" fill="#000" stroke="#fff" stroke-width="0.7">ΔkojR</text>
<text transform="translate(596.55,3150.75) rotate(-45) scale(1.0630,1)" font-size="64.50" fill="#000" stroke="#fff" stroke-width="0.7">Control</text>
</g>
</svg>
</body></html>
